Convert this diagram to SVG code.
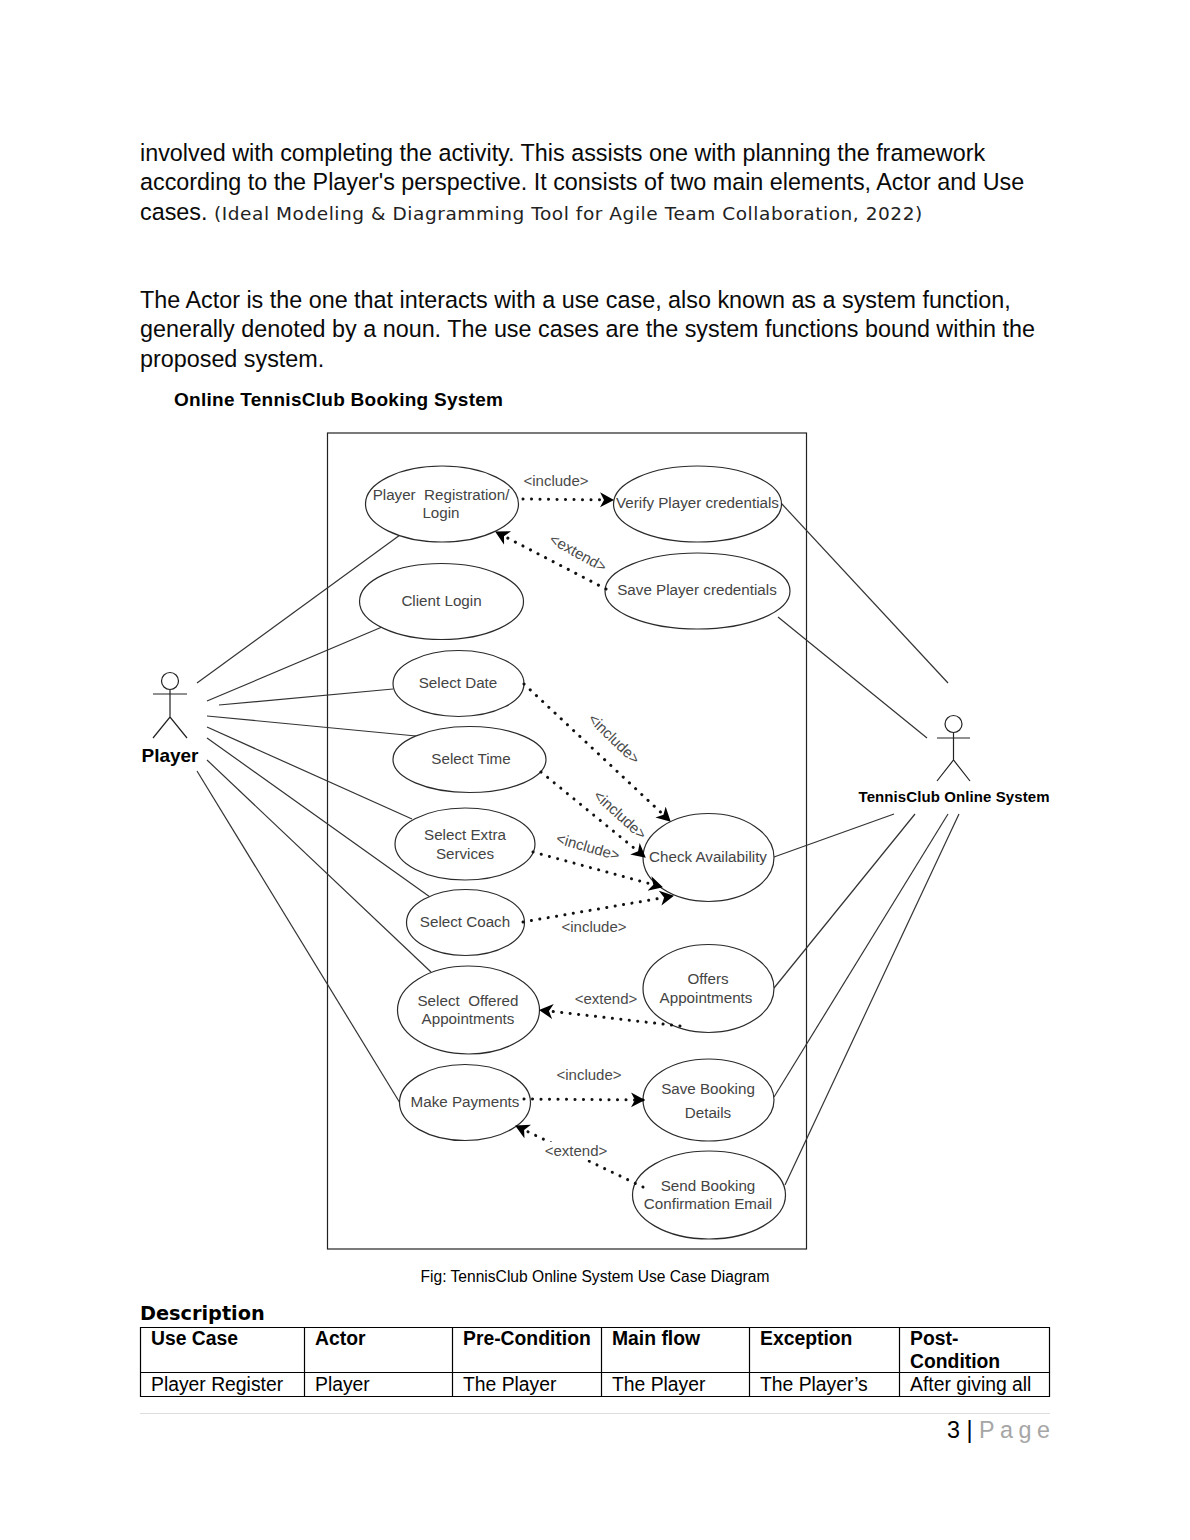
<svg xmlns="http://www.w3.org/2000/svg" width="1190" height="1540" viewBox="0 0 1190 1540">
<style>
text{font-family:"Liberation Sans",Arial,sans-serif;fill:#000;white-space:pre}
.p{font-size:23.35px;fill:#0a0a0a}
.dj{font-family:"DejaVu Sans",sans-serif}
.n{font-size:15.2px;fill:#444;text-anchor:middle}
.l{font-size:15px;fill:#4a4a4a;text-anchor:middle}
.b{font-weight:bold}
.t{font-size:19.33px}
.u{fill:#fff;stroke:#2a2a2a;stroke-width:1.2}
.c line{stroke:#333;stroke-width:1.2;fill:none}
.d{stroke:#111;stroke-width:3;stroke-dasharray:0.1 8.4;stroke-linecap:round;fill:none;marker-end:url(#ah)}
.k{stroke:#222;stroke-width:1.2;fill:none}
.g line{stroke:#000;stroke-width:1.2}
</style>
<defs>
<marker id="ah" markerUnits="userSpaceOnUse" markerWidth="18" markerHeight="18" refX="13" refY="8" orient="auto">
<path d="M0 0.500L14 8L0 15.500L4 8Z" fill="#000"/>
</marker>
</defs>
<rect width="1190" height="1540" fill="#fff"/>
<g id="page-text">
<text class="p" x="140" y="161">involved with completing the activity. This assists one with planning the framework</text>
<text class="p" x="140" y="190">according to the Player's perspective. It consists of two main elements, Actor and Use</text>
<text class="p" x="140" y="220">cases. <tspan class="dj" font-size="18.5px" letter-spacing="0.56" fill="#222">(Ideal Modeling &amp; Diagramming Tool for Agile Team Collaboration, 2022)</tspan></text>
<text class="p" x="140" y="308">The Actor is the one that interacts with a use case, also known as a system function,</text>
<text class="p" x="140" y="337">generally denoted by a noun. The use cases are the system functions bound within the</text>
<text class="p" x="140" y="367">proposed system.</text>
<text class="b" x="174" y="406" font-size="19px" fill="#1a1a1a" textLength="329">Online TennisClub Booking System</text>
</g>
<rect id="boundary" x="327.500" y="433" width="479" height="816" fill="none" stroke="#222" stroke-width="1.2"/>
<g id="connectors" class="c">
<line x1="197" y1="683" x2="400" y2="535"/>
<line x1="207" y1="701" x2="382" y2="627"/>
<line x1="219" y1="705" x2="393" y2="689"/>
<line x1="207" y1="716" x2="416" y2="736"/>
<line x1="207" y1="727" x2="412" y2="819"/>
<line x1="207" y1="738" x2="430" y2="897"/>
<line x1="207" y1="760" x2="431" y2="972"/>
<line x1="197" y1="771" x2="400" y2="1103"/>
<line x1="781" y1="503" x2="948" y2="683"/>
<line x1="778" y1="617" x2="927" y2="738"/>
<line x1="774" y1="857" x2="894" y2="814"/>
<line x1="774" y1="988" x2="915" y2="814"/>
<line x1="774" y1="1097" x2="948" y2="814"/>
<line x1="785" y1="1185" x2="959" y2="814"/>
</g>
<g id="uc-register"><ellipse class="u" cx="442" cy="504" rx="76.500" ry="38"/><text class="n" x="441" y="500">Player  Registration/</text><text class="n" x="441" y="518">Login</text></g>
<g id="uc-verify"><ellipse class="u" cx="697.500" cy="504" rx="84" ry="38"/><text class="n" x="697.500" y="508">Verify Player credentials</text></g>
<g id="uc-save"><ellipse class="u" cx="697.500" cy="591" rx="92.500" ry="38"/><text class="n" x="697" y="595">Save Player credentials</text></g>
<g id="uc-client"><ellipse class="u" cx="441.500" cy="601.500" rx="82" ry="38"/><text class="n" x="441.500" y="606">Client Login</text></g>
<g id="uc-date"><ellipse class="u" cx="458.500" cy="683.500" rx="65.500" ry="33"/><text class="n" x="458" y="688">Select Date</text></g>
<g id="uc-time"><ellipse class="u" cx="469.500" cy="759.500" rx="76.500" ry="33"/><text class="n" x="471" y="764">Select Time</text></g>
<g id="uc-extra"><ellipse class="u" cx="465" cy="844" rx="70" ry="36"/><text class="n" x="465" y="840">Select Extra</text><text class="n" x="465" y="859">Services</text></g>
<g id="uc-coach"><ellipse class="u" cx="465.500" cy="922.500" rx="59" ry="33"/><text class="n" x="465" y="927">Select Coach</text></g>
<g id="uc-offered"><ellipse class="u" cx="468.500" cy="1010" rx="71" ry="44"/><text class="n" x="468" y="1006">Select  Offered</text><text class="n" x="468" y="1024">Appointments</text></g>
<g id="uc-payments"><ellipse class="u" cx="465" cy="1102.500" rx="65.500" ry="38"/><text class="n" x="465" y="1107">Make Payments</text></g>
<g id="uc-check"><ellipse class="u" cx="708.500" cy="857.500" rx="65.500" ry="44"/><text class="n" x="708" y="862">Check Availability</text></g>
<g id="uc-offers"><ellipse class="u" cx="708.500" cy="988.500" rx="65.500" ry="44"/><text class="n" x="708" y="984">Offers</text><text class="n" x="706" y="1003">Appointments</text></g>
<g id="uc-booking"><ellipse class="u" cx="708.500" cy="1100" rx="65.500" ry="41"/><text class="n" x="708" y="1094">Save Booking</text><text class="n" x="708" y="1118">Details</text></g>
<g id="uc-email"><ellipse class="u" cx="709" cy="1195" rx="76.500" ry="44"/><text class="n" x="708" y="1191">Send Booking</text><text class="n" x="708" y="1209">Confirmation Email</text></g>
<g id="dashed">
<path class="d" d="M523 499L613 500"/>
<path class="d" d="M606 589L496 532"/>
<path class="d" d="M524 684L670 821"/>
<path class="d" d="M541 772L645 857"/>
<path class="d" d="M533 852L662 887"/>
<path class="d" d="M523 922L673 896"/>
<path class="d" d="M680 1026L540 1010"/>
<path class="d" d="M524 1099L644 1100"/>
<path class="d" d="M643 1187L516 1126"/>
</g>
<g id="labels">
<text class="l" x="556" y="486">&lt;include&gt;</text>
<text class="l" transform="translate(578 553) rotate(29)" y="5">&lt;extend&gt;</text>
<text class="l" transform="translate(614 739) rotate(44)" y="5">&lt;include&gt;</text>
<text class="l" transform="translate(620 815) rotate(42)" y="5">&lt;include&gt;</text>
<text class="l" transform="translate(588 847) rotate(16)" y="5">&lt;include&gt;</text>
<text class="l" x="594" y="932">&lt;include&gt;</text>
<text class="l" x="606" y="1004">&lt;extend&gt;</text>
<text class="l" x="589" y="1080">&lt;include&gt;</text>
<rect x="544" y="1142" width="64" height="18" fill="#fff"/>
<text class="l" x="576" y="1156">&lt;extend&gt;</text>
</g>
<g id="actor-player">
<circle class="k" cx="170" cy="681" r="8.500"/>
<path class="k" d="M170 690V717M153 694H187M153 738L170 717L187 738"/>
<text class="b" x="170" y="762" font-size="19px" fill="#1a1a1a" text-anchor="middle">Player</text>
</g>
<g id="actor-system">
<circle class="k" cx="953.500" cy="724" r="8.500"/>
<path class="k" d="M953.500 733V760M937 738H970M937 781L953.500 760L970 781"/>
<text class="b" x="954" y="802" font-size="15px" fill="#1a1a1a" text-anchor="middle" textLength="191">TennisClub Online System</text>
</g>
<g id="footer">
<text x="595" y="1282" font-size="15.6px" text-anchor="middle">Fig: TennisClub Online System Use Case Diagram</text>
<text class="dj b" x="140" y="1320" font-size="19.300px">Description</text>
<g class="g">
<line x1="140" y1="1327.500" x2="1050" y2="1327.500"/>
<line x1="140" y1="1372.500" x2="1050" y2="1372.500"/>
<line x1="140" y1="1396.500" x2="1050" y2="1396.500"/>
<line x1="140.500" y1="1327" x2="140.500" y2="1397"/>
<line x1="304.500" y1="1327" x2="304.500" y2="1397"/>
<line x1="452.500" y1="1327" x2="452.500" y2="1397"/>
<line x1="601.500" y1="1327" x2="601.500" y2="1397"/>
<line x1="749.500" y1="1327" x2="749.500" y2="1397"/>
<line x1="899.500" y1="1327" x2="899.500" y2="1397"/>
<line x1="1049.500" y1="1327" x2="1049.500" y2="1397"/>
</g>
<text class="t b" x="151" y="1345">Use Case</text>
<text class="t b" x="315" y="1345">Actor</text>
<text class="t b" x="463" y="1345">Pre-Condition</text>
<text class="t b" x="612" y="1345">Main flow</text>
<text class="t b" x="760" y="1345">Exception</text>
<text class="t b" x="910" y="1345">Post-</text>
<text class="t b" x="910" y="1368">Condition</text>
<text class="t" x="151" y="1391">Player Register</text>
<text class="t" x="315" y="1391">Player</text>
<text class="t" x="463" y="1391">The Player</text>
<text class="t" x="612" y="1391">The Player</text>
<text class="t" x="760" y="1391">The Player’s</text>
<text class="t" x="910" y="1391">After giving all</text>
<line x1="140" y1="1413.500" x2="1050" y2="1413.500" stroke="#ddd" stroke-width="1.200"/>
<text x="1055.500" y="1438" font-size="23.350px" text-anchor="end">3 | <tspan fill="#a6a6a6" letter-spacing="5.500">Page</tspan></text>
</g>
</svg>
